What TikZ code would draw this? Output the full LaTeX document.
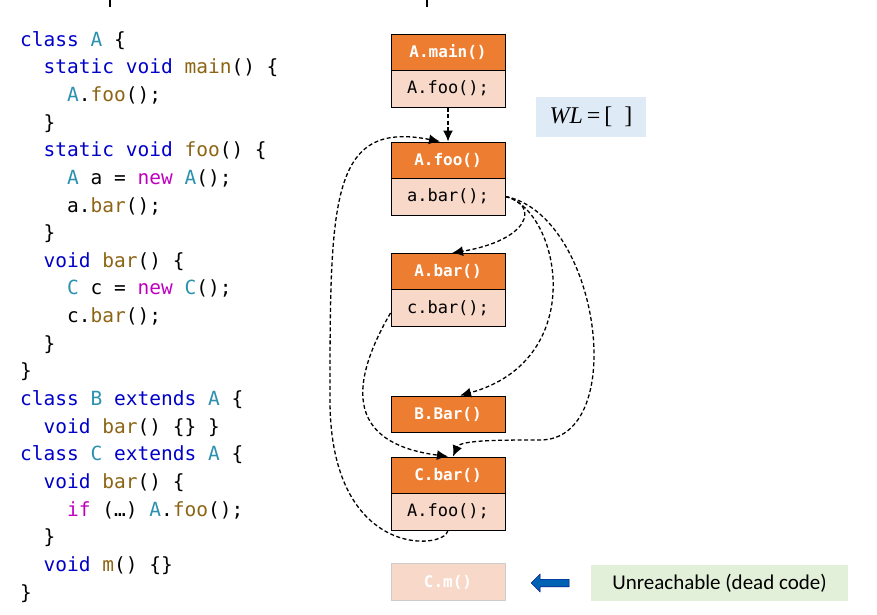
\documentclass[tikz,border=0pt]{standalone}
\usepackage{fontspec}
\setmainfont{Carlito}
\setmonofont{DejaVu Sans Mono}
\newfontfamily\wlfont{Liberation Serif}
\usetikzlibrary{arrows.meta,shapes.arrows}
\definecolor{hdr}{RGB}{237,125,49}
\definecolor{bdy}{RGB}{248,216,200}
\definecolor{wlbg}{RGB}{222,235,247}
\definecolor{deadbg}{RGB}{226,240,217}
\definecolor{kw}{RGB}{0,0,200}
\definecolor{cls}{RGB}{43,145,175}
\definecolor{mth}{RGB}{140,100,20}
\definecolor{nw}{RGB}{190,0,190}
\tikzset{
  hd/.style={draw, line width=1pt, fill=hdr, text=white, font=\ttfamily\bfseries\fontsize{16}{16}\selectfont,
    minimum width=114, minimum height=36, inner sep=0pt},
  bd/.style={draw, line width=1pt, fill=bdy, font=\ttfamily\fontsize{17}{17}\selectfont,
    minimum width=114, minimum height=37, inner sep=0pt},
  call/.style={line width=1.3pt, dash pattern=on 4pt off 2.5pt, -{Latex[length=11pt,width=10pt]}}
}
\newcommand{\kw}[1]{\textcolor{kw}{#1}}
\newcommand{\cl}[1]{\textcolor{cls}{#1}}
\newcommand{\mt}[1]{\textcolor{mth}{#1}}
\newcommand{\nw}[1]{\textcolor{nw}{#1}}
\begin{document}
\begin{tikzpicture}[x=1pt, y=-1pt]
        \useasboundingbox (0,0) rectangle (877,614);
        \draw[line width=2pt] (110,0) -- (110,7);
        \draw[line width=2pt] (427,0) -- (427,7);

        % source code
        \node[anchor=north west, align=left, inner sep=0pt,
            font=\ttfamily\fontsize{19.5}{27.65}\selectfont](code) at (20,31){%
        \kw{class} \cl{A} \{\\
        \ \ \kw{static} \kw{void} \mt{main}() \{\\
        \ \ \ \ \cl{A}.\mt{foo}();\\
        \ \ \}\\
        \ \ \kw{static} \kw{void} \mt{foo}() \{\\
        \ \ \ \ \cl{A} a = \nw{new} \cl{A}();\\
        \ \ \ \ a.\mt{bar}();\\
        \ \ \}\\
        \ \ \kw{void} \mt{bar}() \{\\
        \ \ \ \ \cl{C} c = \nw{new} \cl{C}();\\
        \ \ \ \ c.\mt{bar}();\\
        \ \ \}\\
        \}\\
        \kw{class} \cl{B} \kw{extends} \cl{A} \{\\
        \ \ \kw{void} \mt{bar}() \{\} \}\\
        \kw{class} \cl{C} \kw{extends} \cl{A} \{\\
        \ \ \kw{void} \mt{bar}() \{\\
        \ \ \ \ \nw{if} (…) \cl{A}.\mt{foo}();\\
        \ \ \}\\
        \ \ \kw{void} \mt{m}() \{\}\\
        \}};

        % call graph
        \node[hd](mainH) at (448,52){A.main()};
        \node[bd](mainB) at (448,88.5){A.foo();};
        \node[hd](fooH) at (448,160){A.foo()};
        \node[bd](fooB) at (448,196.5){a.bar();};
        \node[hd](abarH) at (448,271.5){A.bar()};
        \node[bd](abarB) at (448,308){c.bar();};
        \node[hd](bbarH) at (448,414){B.Bar()};
        \node[hd](cbarH) at (448,475){C.bar()};
        \node[bd](cbarB) at (448,511.5){A.foo();};
        \node[draw=black!20, line width=1pt, fill=bdy, text=white, font=\ttfamily\bfseries\fontsize{16}{16}\selectfont,
            minimum width=114, minimum height=37, inner sep=0pt](cm) at (448,582){C.m()};

        \node[fill=wlbg, minimum width=110, minimum height=40,
            font=\wlfont\fontsize{24}{24}\selectfont](wl) at (591,117){\textit{WL}\,=\,[\ \ ]};
        \node[fill=deadbg, minimum width=257, minimum height=36,
            font=\fontsize{21}{21}\selectfont](dead) at (719.5,583){Unreachable (dead code)};
        \node[single arrow, shape border rotate=180, fill=blue!45!cyan!70!black, draw=blue!50!black,
            minimum height=38, minimum width=18, single arrow head extend=3, inner sep=2pt](ptr) at (552,583){};

        \draw[call] (mainB.south) -- (fooH.north);
        \draw[call] (cbarB.south) .. controls (445,550) and (330,560) .. (330,400)
            .. controls (330,200) and (330,120) .. ([xshift=-8]fooH.north);
        \draw[call] (fooB.east) .. controls (540,205) and (530,240) .. ([xshift=4]abarH.north);
        \draw[call] (fooB.east) .. controls (560,210) and (590,360) .. ([xshift=12]bbarH.north);
        \draw[call] (fooB.east) .. controls (600,215) and (630,440) .. (540,440)
            .. controls (500,440) and (460,440) .. ([xshift=5]cbarH.north);
        \draw[call] ([yshift=-5]abarB.west) .. controls (340,400) and (360,445) .. ([xshift=0]cbarH.north);
    \end{tikzpicture}
\end{document}
